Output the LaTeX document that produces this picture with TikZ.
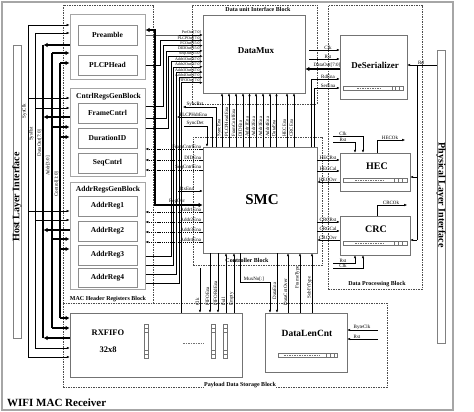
\documentclass[tikz,border=0pt]{standalone}
\usepackage{fontspec}
\setmainfont{Liberation Serif}
\usetikzlibrary{arrows.meta,calc}
\begin{document}
\begin{tikzpicture}[x=1pt,y=-1pt,
  >={Latex[length=2.8pt,width=2.4pt]},
  box/.style={draw=black!55,line width=0.7pt,inner sep=0pt},
  grp/.style={draw=black!35,line width=1pt,inner sep=0pt},
  reg/.style={draw=black!45,line width=0.6pt,inner sep=0pt,font=\fontsize{7.5}{8}\selectfont\bfseries},
  blk/.style={draw=black!70,line width=0.45pt,dash pattern=on 1.5pt off 1pt,inner sep=0pt},
  sg/.style={line width=0.4pt},
  bs/.style={line width=1.4pt,>={Latex[length=4pt,width=4.5pt]}},
  en/.style={line width=0.4pt,dash pattern=on 1.2pt off 0.9pt},
  lb/.style={font=\fontsize{5}{5}\selectfont,inner sep=0.3pt},
  lbs/.style={font=\fontsize{4}{4}\selectfont,inner sep=0.3pt},
  lbm/.style={font=\fontsize{4.8}{5}\selectfont,inner sep=0.3pt},
  bt/.style={font=\bfseries\fontsize{6}{6}\selectfont,inner sep=0.5pt},
  bar/.style={draw=black!55,line width=0.4pt},
]
\useasboundingbox (0,0) rectangle (474,412);
% outer frame
\node[draw=black!35,line width=2.5pt,minimum width=451pt,minimum height=408pt,inner sep=0pt] (frame) at (227.5,206) {};
% interfaces
\node[draw=black!50,line width=0.6pt,minimum width=8pt,minimum height=293pt,inner sep=0pt] (host) at (17,191.5) {};
\node[font=\bfseries\fontsize{10}{10}\selectfont,rotate=90,inner sep=0pt] (thost) at (17,197) {Host Layer Interface};
\node[draw=black!50,line width=0.6pt,minimum width=8pt,minimum height=293pt,inner sep=0pt] (phy) at (441,196.5) {};
\node[font=\bfseries\fontsize{10}{10}\selectfont,rotate=-90,inner sep=0pt] (tphy) at (441,195) {Physical Layer Interface};
\node[font=\bfseries\fontsize{11}{11}\selectfont,anchor=base west,inner sep=0pt] (title) at (7,406) {WIFI MAC Receiver};
% dashed blocks
\node[blk,minimum width=90pt,minimum height=298pt] (mhb) at (108,154) {};
\node[blk,minimum width=125pt,minimum height=99pt] (dib) at (254.5,54.5) {};
\node[blk,minimum width=129pt,minimum height=128pt] (cb) at (257.5,201) {};
\node[blk,minimum width=94pt,minimum height=284pt] (dpb) at (375,147) {};
\node[blk,minimum width=324pt,minimum height=84pt] (pdb) at (225,345) {};
\node[bt] (tmhb) at (108,299) {MAC Header Registers Block};
\node[bt] (tdib) at (258,9.5) {Data unit Interface Block};
\node[bt] (tcb) at (247,260) {Controller Block};
\node[bt] (tdpb) at (377,284) {Data Processing Block};
\node[bt,fill=white] (tpdb) at (240,385) {Payload Data Storage Block};
% register groups
\node[grp,minimum width=75pt,minimum height=65pt] (g1) at (107.5,47.5) {};
\node[reg,minimum width=59pt,minimum height=20pt] (pre) at (107.5,35) {Preamble};
\node[reg,minimum width=59pt,minimum height=20pt] (plcp) at (107.5,65) {PLCPHead};
\node[grp,minimum width=75pt,minimum height=87pt] (g2) at (107.5,132.5) {};
\node[font=\fontsize{7.5}{8}\selectfont\bfseries,inner sep=0pt] (tg2) at (108.5,97) {CntrlRegsGenBlock};
\node[reg,minimum width=59pt,minimum height=20pt] (fc) at (107.5,113) {FrameCntrl};
\node[reg,minimum width=59pt,minimum height=20pt] (did) at (107.5,138) {DurationID};
\node[reg,minimum width=59pt,minimum height=20pt] (seq) at (107.5,163) {SeqCntrl};
\node[grp,minimum width=75pt,minimum height=107pt] (g3) at (107.5,235.5) {};
\node[font=\fontsize{7.5}{8}\selectfont\bfseries,inner sep=0pt] (tg3) at (108,190) {AddrRegsGenBlock};
\node[reg,minimum width=59pt,minimum height=20pt] (a1) at (107.5,206) {AddrReg1};
\node[reg,minimum width=59pt,minimum height=20pt] (a2) at (107.5,231) {AddrReg2};
\node[reg,minimum width=59pt,minimum height=20pt] (a3) at (107.5,255) {AddrReg3};
\node[reg,minimum width=59pt,minimum height=19pt] (a4) at (107.5,277.5) {AddrReg4};
% main modules
\node[box,minimum width=102pt,minimum height=78pt] (dmux) at (254,54) {};
\node[font=\bfseries\fontsize{9}{9}\selectfont] (tdmux) at (256,51) {DataMux};
\node[box,minimum width=67pt,minimum height=64pt] (dser) at (373.5,67) {};
\node[font=\bfseries\fontsize{9}{9}\selectfont] (tdser) at (375,65) {DeSerializer};
\node[box,minimum width=70pt,minimum height=38pt] (hec) at (375,172) {};
\node[font=\bfseries\fontsize{10}{10}\selectfont] (thec) at (377,166) {HEC};
\node[box,minimum width=70pt,minimum height=39pt] (crc) at (375,235.5) {};
\node[font=\bfseries\fontsize{10}{10}\selectfont] (tcrc) at (376,229.5) {CRC};
\node[box,minimum width=114pt,minimum height=106pt] (smc) at (260,200) {};
\node[font=\bfseries\fontsize{15}{15}\selectfont] (tsmc) at (262,200) {SMC};
\node[box,minimum width=172pt,minimum height=64pt] (rx) at (156,345) {};
\node[font=\bfseries\fontsize{8.5}{9}\selectfont] (trx1) at (108,333) {RXFIFO};
\node[font=\bfseries\fontsize{8.5}{9}\selectfont] (trx2) at (108,349.5) {32x8};
\node[box,minimum width=82pt,minimum height=59pt] (dlc) at (306,342.5) {};
\node[font=\bfseries\fontsize{9.5}{10}\selectfont] (tdlc) at (307,333) {DataLenCnt};
% shift register bars
\draw[bar] (343,86) rectangle (403,90);
\draw[bar,dash pattern=on 1.5pt off 1pt] (357,88) -- (382,88);
\foreach \x in {392,395.5,399} \draw[bar] (\x,86) -- (\x,90);
\draw[bar] (343,178) rectangle (407,182);
\draw[bar,dash pattern=on 1.5pt off 1pt] (355,180) -- (385,180);
\foreach \x in {394,398,402} \draw[bar] (\x,178) -- (\x,182);
\draw[bar] (343,241) rectangle (407,245);
\draw[bar,dash pattern=on 1.5pt off 1pt] (355,243) -- (385,243);
\foreach \x in {394,398,402} \draw[bar] (\x,241) -- (\x,245);
\draw[bar] (278,353) rectangle (337,357);
\draw[bar,dash pattern=on 1.5pt off 1pt] (284,355) -- (320,355);
\foreach \x in {326,330,334} \draw[bar] (\x,353) -- (\x,357);
\foreach \x in {144,211,223}{
  \draw[bar] (\x,324) rectangle (\x+4,358);
  \foreach \y in {328,332,350,354} \draw[bar] (\x,\y) -- (\x+4,\y);
}
\draw[bar,dash pattern=on 1.5pt off 1pt] (183,343) -- (204,343);
% host side buses
\foreach \x/\ya/\yb/\yc/\yd in {28/25/98/211/357, 35/33/108/220/348}{
  \draw[sg] (\x,\ya) -- (\x,\yd);
  \foreach \y/\t in {\ya/g1,\yb/g2,\yc/g3,\yd/rx} \draw[sg,->] (\x,\y) -- (\t.west |- 0,\y);
}
\foreach \x/\ya/\yb/\yc/\yd in {52/53/127/239/328, 60/63/137/249/318}{
  \draw[bs] (\x,\ya) -- (\x,\yd);
  \foreach \y/\t in {\ya/g1,\yb/g2,\yc/g3,\yd/rx} \draw[bs,->] (\x,\y) -- (\t.west |- 0,\y);
}
\draw[bs] (43,45) -- (43,338);
\foreach \y/\t in {45/g1,117/g2,230/g3,338/rx} \draw[bs,->] (\t.west |- 0,\y) -- (43.5,\y);
\node[lb,rotate=90] (tsclk) at (24.5,111) {SysClk};
\node[lb,rotate=90] (tsrst) at (31.5,134) {SysRst};
\node[lb,rotate=90] (tdo) at (39.5,143) {DataOut[7:0]};
\node[lb,rotate=90] (tad) at (48,166) {Addr[3:0]};
\node[lb,rotate=90] (tct) at (56.5,184) {Control[1:0]};
% register outputs to DataMux
\foreach \i/\r/\g/\t in {0/35/g1/PreOut[7:0], 1/65/g1/PLCPOut[7:0], 2/106/g2/FCOut[15:0], 3/118/g2/DIDOut[15:0], 4/128/g2/SeqOut[15:0], 5/256/g3/Addr1Out[47:0], 6/265/g3/Addr2Out[47:0], 7/274/g3/Addr3Out[47:0], 8/283/g3/Addr4Out[47:0]}{
  \pgfmathsetmacro\yy{35+5.3*\i}
  \pgfmathsetmacro\xx{158+2.6*\i}
  \draw[sg,->] (\g.east |- 0,\r) -- (\xx,\r) -- (\xx,\yy) -- (dmux.west |- 0,\yy);
  \node[lbs,anchor=south east] (o\i) at (201.5,\yy) {\t};
}
\draw[sg,->] (rx.north -| 181.4,0) -- (181.4,82.7) -- (dmux.west |- 0,82.7);
\node[lbs,anchor=south east] (o9) at (201.5,82.7) {FIFOOut[7:0]};
% thick bus to SMC
\draw[bs,<->] (g1.east |- 0,30) -- (155,30) -- (155,205) -- (smc.west |- 0,205);
\node[lb,anchor=south] (tovr) at (177,204.5) {RegOvr};
% enables to registers
\foreach \y/\g/\t in {149/g2/FramCntrlEna, 160/g2/DIDEna, 170/g2/SeqCntrlEna, 212/g3/Addr1Ena, 222/g3/Addr2Ena, 232/g3/Addr3Ena, 242/g3/Addr4Ena}{
  \draw[en,->] (smc.west |- 0,\y) -- (\g.east |- 0,\y);
  \node[lb,anchor=south east] (e\y) at (201.5,\y) {\t};
}
\draw[sg,->] (178,191) -- (smc.west |- 0,191);
\node[lb,anchor=south] (trxe) at (187,191) {RxEna};
% sync signals
\draw[sg,->] (smc.north -| 216,0) -- (216,107) -- (183,107);
\node[lb,anchor=south west] (tsyr) at (186,107) {SyncRst};
\draw[sg,->] (smc.north -| 212,0) -- (212,117) -- (177,117);
\node[lb,anchor=south west] (tplh) at (179,117) {PLCPHdrEna};
\draw[sg,->] (184,126) -- (207,126) -- (smc.north -| 207,0);
\node[lb,anchor=south west] (tsyd) at (186,126) {SyncDet};
% enables into DataMux
\foreach \x/\t in {222/SyncEna, 229/PLCPHeadEna, 236/FramCntrlEna, 243/DIDEna, 249.5/Addr1Ena, 256/Addr2Ena, 263/Addr3Ena, 270/Addr4Ena, 276.5/DataEna, 287/HECEna, 294/CRCEna}{
  \draw[sg,->] (smc.north -| \x,0) -- (dmux.south -| \x,0);
  \node[lbm,rotate=90,anchor=west] at (\x-2.6,137) {\t};
}
% DeSerializer signals
\draw[sg,->] (309,50) -- (dser.west |- 0,50);
\node[lb,anchor=south] (tdc) at (328,50) {Clk};
\draw[sg,->] (309,59) -- (dser.west |- 0,59);
\node[lb,anchor=south] (tdr) at (328,59) {Rst};
\draw[bs,->] (dser.west |- 0,69) -- (dmux.east |- 0,69);
\node[lb,anchor=south] (tdd) at (327,68) {DataOut[7:0]};
\draw[sg,->] (smc.north -| 311,0) -- (311,79) -- (dser.west |- 0,79);
\node[lb,anchor=south] (tre) at (328,79) {RdEna};
\draw[sg,->] (smc.north -| 314,0) -- (314,88) -- (dser.west |- 0,88);
\node[lb,anchor=south] (tse) at (328,88) {SerEna};
\draw[sg,->] (phy.west |- 0,65) -- (dser.east |- 0,65);
\node[lb,anchor=south] (trd) at (421,65) {Rd};
\draw[sg] (417,65) -- (417,240);
\draw[sg,->] (417,177) -- (hec.east |- 0,177);
\draw[sg,->] (417,240) -- (crc.east |- 0,240);
% HEC / CRC signals
\foreach \y/\t in {160/HECRst, 171/HECCal, 222/CRCRst, 231/CRCCal}{
  \draw[sg,->] (smc.east |- 0,\y) -- (hec.west |- 0,\y);
  \node[lb,anchor=south] at (328,\y) {\t};
}
\foreach \y/\t in {182/HECOvr, 240/CRCOvr}{
  \draw[sg,->] (hec.west |- 0,\y) -- (smc.east |- 0,\y);
  \node[lb,anchor=south] at (328,\y) {\t};
}
\draw[sg,->] (333,136) -- (363,136) -- (hec.north -| 363,0);
\node[lb,anchor=south] (thc) at (343,136) {Clk};
\draw[sg,->] (333,142) -- (355,142) -- (hec.north -| 355,0);
\node[lb,anchor=south] (thr) at (343,142) {Rst};
\draw[sg,->] (hec.north -| 377,0) -- (377,140) -- (405,140);
\node[lb,anchor=south] (thok) at (390,140) {HECOk};
\draw[sg,->] (crc.north -| 377,0) -- (377,205) -- (407,205);
\node[lb,anchor=south] (tcok) at (391,205) {CRCOk};
\draw[sg,->] (333,263) -- (355,263) -- (crc.south -| 355,0);
\node[lb,anchor=south] (tcr) at (343,263) {Rst};
\draw[sg,->] (333,268.5) -- (363,268.5) -- (crc.south -| 363,0);
\node[lb,anchor=south] (tcc) at (343,268.5) {Clk};
% SMC to FIFO / DataLenCnt
\draw[sg,->] (200,268) -- (rx.north -| 200,0);
\node[lb,rotate=90,anchor=west] (tfc) at (197.5,306) {Clk};
\foreach \x/\t in {210/FIFOEna, 218/FIFORdEna}{
  \draw[sg,->] (smc.south -| \x,0) -- (rx.north -| \x,0);
  \node[lb,rotate=90,anchor=west] at (\x-2.5,306) {\t};
}
\foreach \x/\t in {226/Full, 234/Empty}{
  \draw[sg,->] (rx.north -| \x,0) -- (smc.south -| \x,0);
  \node[lb,rotate=90,anchor=west] at (\x-2.5,306) {\t};
}
\draw[sg,->] (smc.south -| 240,0) -- (240,282) -- (270,282) -- (dlc.north -| 270,0);
\node[lb,anchor=south] (tmux) at (254,282) {MuxNo[:]};
\draw[sg,->] (smc.south -| 277,0) -- (dlc.north -| 277,0);
\node[lb,rotate=90,anchor=west] (tden) at (274.5,300) {DataEna};
\foreach \x/\y/\t in {288/306/DataCntOver, 300/289/FrameType, 312/299/SubFrType}{
  \draw[sg,->] (dlc.north -| \x,0) -- (smc.south -| \x,0);
  \node[lb,rotate=90,anchor=west] at (\x-2.5,\y) {\t};
}
\draw[sg,->] (378,330) -- (dlc.east |- 0,330);
\node[lb,anchor=south] (tbc) at (362,330) {ByteClk};
\draw[sg,->] (378,339) -- (dlc.east |- 0,339);
\node[lb,anchor=south] (tbr) at (357,339) {Rst};
\end{tikzpicture}
\end{document}
